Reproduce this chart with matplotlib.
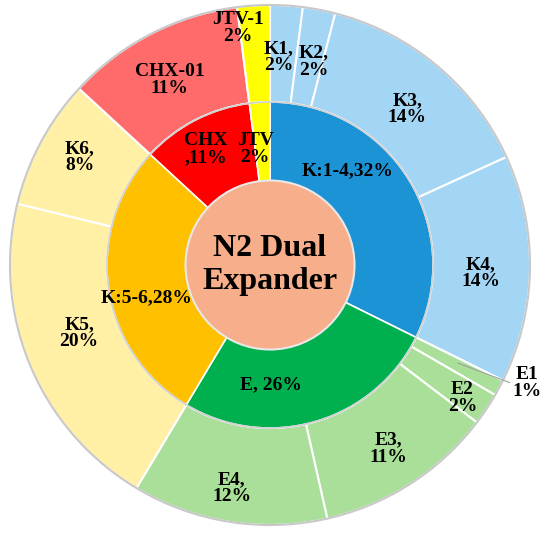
import numpy as np
import matplotlib.pyplot as plt
from matplotlib.patches import Circle

plt.rcParams['font.family'] = ['Liberation Serif', 'DejaVu Serif']

# Inner ring: groups
inner_labels = ['K:1-4,32%', 'E, 26%', 'K:5-6,28%', 'CHX\n,11%', 'JTV\n2%']
inner_values = [32, 26, 28, 11, 2]
inner_colors = ['#1b93d5', '#00b04f', '#ffc000', '#ff0000', '#ffff00']

# Outer ring: units
outer_labels = ['K1,\n2%', 'K2,\n2%', 'K3,\n14%', 'K4,\n14%',
                'E1\n1%', 'E2\n2%', 'E3,\n11%', 'E4,\n12%',
                'K5,\n20%', 'K6,\n8%', 'CHX-01\n11%', 'JTV-1\n2%']
outer_values = [2, 2, 14, 14, 1, 2, 11, 12, 20, 8, 11, 2]
outer_colors = ['#a3d5f5'] * 4 + ['#a9df99'] * 4 + ['#fff0a6'] * 2 + ['#ff6b6b', '#ffff00']

# label placement tweaks: (radius, angle shift in degrees)
outer_pos = [(0.80, 1.3), (0.80, -1.3), (0.80, -1.3), (0.81, -1.3), (1.09, 3.5), (0.90, -1),
             (0.84, 0), (0.87, -0.6), (0.78, -3), (0.84, -1.4), (0.81, 1.2), (0.92, 4)]
inner_pos = [(0.47, 19), (0.46, -16), (0.49, 6.8), (0.51, 1.6), (0.45, 3.6)]

fig = plt.figure(figsize=(5.5, 5.35), dpi=100)
ax = fig.add_axes([0, 0, 1, 1])
R = 260.0
cx, cy = 270.0, 265.0

r_mid = 0.627
w_out, _ = ax.pie(outer_values, colors=outer_colors, startangle=90, counterclock=False,
                  radius=1.0, wedgeprops=dict(width=1.0 - r_mid, edgecolor='white', linewidth=1.5))
ax.add_patch(Circle((0, 0), 1.0, fill=False, edgecolor='#c8c8c8', lw=1.5, zorder=3))
w_in, _ = ax.pie(inner_values, colors=inner_colors, startangle=90, counterclock=False,
                 radius=r_mid, wedgeprops=dict(edgecolor='white', linewidth=1.2))
ax.add_patch(Circle((0, 0), r_mid, fill=False, edgecolor='#d0d0d0', lw=1.2, zorder=3))

# centre disc
ax.add_patch(Circle((0, 0), 0.325, facecolor='#f7ae8b', edgecolor='#e8e8e8', lw=1.5, zorder=4))
ax.text(0, 0, 'N2 Dual\nExpander', ha='center', va='center', fontsize=23,
        fontweight='bold', linespacing=1.15, zorder=5)

def place(wedges, labels, pos, size):
    for w, lab, (r, da) in zip(wedges, labels, pos):
        ang = np.deg2rad((w.theta1 + w.theta2) / 2 + da)
        ax.text(r * np.cos(ang), r * np.sin(ang), lab, ha='center', va='center',
                fontsize=size, fontweight='bold', linespacing=1.0, zorder=6)

place(w_out, outer_labels, outer_pos, 14)
place(w_in, inner_labels, inner_pos, 14)

# leader line for the tiny E1 slice
e1 = w_out[4]
a = np.deg2rad((e1.theta1 + e1.theta2) / 2)
ax.plot([0.82 * np.cos(a), 1.0 * np.cos(a) + 0.04], [0.82 * np.sin(a) + 0.01, 1.0 * np.sin(a) + 0.02],
        color='#a0a0a0', lw=0.8, zorder=6)

ax.set_xlim(-cx / R, (550 - cx) / R)
ax.set_ylim(-(535 - cy) / R, cy / R)
ax.set_aspect('equal')
ax.axis('off')

fig.savefig('out.png', dpi=100)
